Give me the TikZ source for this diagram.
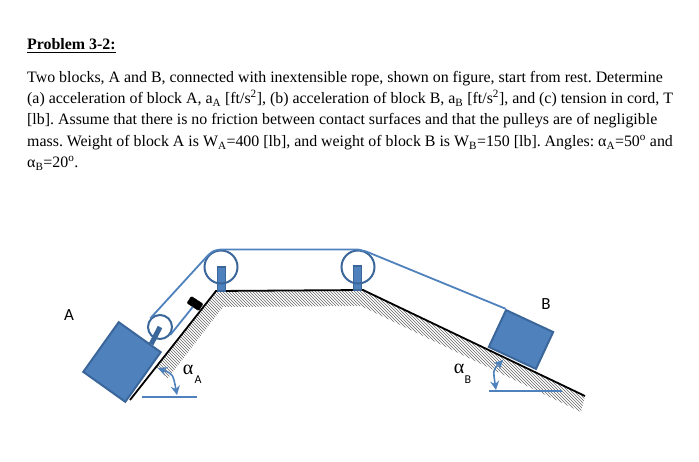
\documentclass[tikz,border=0pt]{standalone}
\usepackage{fontspec}
\setmainfont{Liberation Serif}
\newfontfamily\labelfont{Carlito}
\usetikzlibrary{arrows.meta}
\usetikzlibrary{calc}
\definecolor{blockblue}{HTML}{4F81BD}
\definecolor{edgeblue}{HTML}{3A669A}
\tikzset{
    textline/.style={anchor=base west,inner sep=0pt,font=\fontsize{15.9}{18}\selectfont\frenchspacing},
    sidelabel/.style={inner sep=0pt,font=\labelfont\fontsize{17}{18}\selectfont},
    subscriptlabel/.style={inner sep=0pt,font=\labelfont\fontsize{12}{12}\selectfont},
    block/.style={draw=edgeblue,fill=blockblue,line width=2pt,inner sep=0pt},
    pulley/.style={draw=edgeblue,line width=2pt,circle,inner sep=0pt},
    support/.style={draw=edgeblue,fill=blockblue,line width=1.2pt,inner sep=0pt,minimum width=8pt,minimum height=24pt},
    rope/.style={draw=blockblue,line width=1.8pt},
    angleline/.style={draw=blockblue,line width=2pt},
    anglearrow/.style={draw=blockblue,line width=1.6pt,{Stealth[length=9pt,width=9pt]}-{Stealth[length=9pt,width=9pt]}},
}
\begin{document}
\begin{tikzpicture}[x=1pt,y=-1pt]
    \useasboundingbox (0,0) rectangle (699,462);

    % problem text
    \node[textline] (title) at (27,50) {\textbf{Problem 3-2:}};
    \draw[line width=0.9pt] (title.base west)++(0,2.5) -- ($(title.base east)+(0,2.5)$);
    \node[textline] (lineone) at (27,83) {Two blocks, A and B, connected with inextensible rope, shown on figure, start from rest. Determine};
    \node[textline] (linetwo) at (27,104) {(a) acceleration of block A, a\textsubscript{A} [ft/s\textsuperscript{2}], (b) acceleration of block B, a\textsubscript{B} [ft/s\textsuperscript{2}], and (c) tension in cord, T};
    \node[textline] (linethree) at (27,125) {[lb]. Assume that there is no friction between contact surfaces and that the pulleys are of negligible};
    \node[textline] (linefour) at (27,147) {mass. Weight of block A is W\textsubscript{A}=400 [lb], and weight of block B is W\textsubscript{B}=150 [lb]. Angles: α\textsubscript{A}=50\textsuperscript{o} and};
    \node[textline] (linefive) at (27,168) {α\textsubscript{B}=20\textsuperscript{o}.};

    % ground
    \coordinate (groundA) at (130,400);
    \coordinate (peakL) at (216,291);
    \coordinate (peakR) at (363,290);
    \coordinate (groundB) at (585,396);
    \begin{scope}
        \clip (groundA) -- (peakL) -- (peakR) -- (groundB) -- (581,412) -- (361,306) -- (223,307) -- (145,408) -- cycle;
        \foreach \i in {0,3,...,560} {
            \draw[black!60,line width=0.6pt] (\i+60,270) -- +(150,150);
        }
    \end{scope}
    \draw[line width=1.8pt] (groundA) -- (peakL) -- (peakR) -- (groundB);

    % supports and pulleys
    \node[support] (supportL) at (221.5,279) {};
    \node[support] (supportR) at (357.5,278) {};
    \node[pulley,minimum size=33pt] (pulleyL) at (221,267) {};
    \node[pulley,minimum size=33pt] (pulleyR) at (358,267) {};
    \node[pulley,minimum size=24pt] (pulleyA) at (160,327) {};

    % blocks
    \node[block,minimum width=51.6pt,minimum height=61pt,rotate=-35.5] (blockA) at (122,362) {};
    \node[block,minimum width=52pt,minimum height=40.7pt,rotate=-25] (blockB) at (521,339.5) {};
    \node[fill=black,draw=black,rounded corners=1pt,inner sep=0pt,minimum width=14pt,minimum height=8pt,rotate=-33] (anchorA) at (195,303.5) {};

    % ropes
    \draw[rope] (pulleyA.138) -- (pulleyL.138) .. controls (213.6,250.5) .. (pulleyL.90) -- (pulleyR.90) .. controls (362,250.5) .. (pulleyR.63) -- (blockB.north west);
    \draw[rope] (pulleyA.-38) -- (anchorA.south);
    \draw[draw=edgeblue,line width=5pt] ($(blockA.north)!0.5!(blockA.north east)$) -- (pulleyA.center);

    % angles
    \coordinate (levelA) at (142,397);
    \coordinate (levelAend) at (197,397);
    \coordinate (levelB) at (489,391);
    \coordinate (levelBend) at (562,391);
    \draw[angleline] (levelA) -- (levelAend);
    \draw[angleline] (levelB) -- (levelBend);
    \coordinate (arcAstart) at (158,368);
    \coordinate (arcAend) at (177,395);
    \coordinate (arcBstart) at (503,360);
    \coordinate (arcBend) at (496,390);
    \draw[anglearrow] (arcAstart) .. controls (173,374) .. (arcAend);
    \draw[anglearrow] (arcBstart) .. controls (493,370) .. (arcBend);

    % labels
    \node[sidelabel] (labelA) at (69,315) {A};
    \node[sidelabel] (labelB) at (546,304) {B};
    \node[textline,anchor=center,font=\fontsize{20}{20}\selectfont] (alphaA) at (188,370) {α};
    \node[subscriptlabel] (subA) at (198,379.5) {A};
    \node[textline,anchor=center,font=\fontsize{20}{20}\selectfont] (alphaB) at (459,369) {α};
    \node[subscriptlabel] (subB) at (468,379.5) {B};
\end{tikzpicture}
\end{document}
